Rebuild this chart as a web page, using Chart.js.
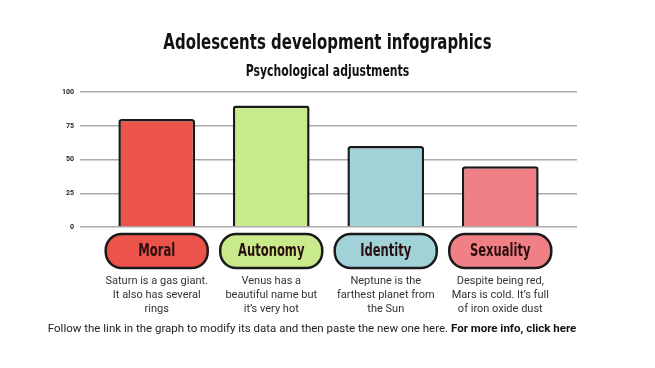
<!DOCTYPE html>
<html>
<head>
<meta charset="utf-8">
<script src="https://cdn.jsdelivr.net/npm/chart.js@4.4.1/dist/chart.umd.min.js"></script>
<style>
  html, body { margin: 0; padding: 0; background: #fff; }
  #wrap { width: 655px; height: 368px; position: relative; }
</style>
</head>
<body>
<div id="wrap"><canvas id="devChart" width="655" height="368"></canvas></div>
<script>
// chart data
const categories = ['Moral', 'Autonomy', 'Identity', 'Sexuality'];
const values = [80, 90, 60, 45];
const yTicks = [0, 25, 50, 75, 100];
const descriptions = [
  ['Saturn is a gas giant.', 'It also has several', 'rings'],
  ['Venus has a', 'beautiful name but', 'it\u2019s very hot'],
  ['Neptune is the', 'farthest planet from', 'the Sun'],
  ['Despite being red,', 'Mars is cold. It\u2019s full', 'of iron oxide dust']
];
const title = 'Adolescents development infographics';
const subtitle = 'Psychological adjustments';
const footer = 'Follow the link in the graph to modify its data and then paste the new one here.';
const footerBold = 'For more info, click here';

const colors = ['#ec534b', '#c8ea8b', '#a1d2d8', '#f17f86'];
const ink = '#1a1a1a';

function roundRect(ctx, x, y, w, h, r) {
  ctx.beginPath();
  ctx.moveTo(x + r, y);
  ctx.arcTo(x + w, y, x + w, y + h, r);
  ctx.arcTo(x + w, y + h, x, y + h, r);
  ctx.arcTo(x, y + h, x, y, r);
  ctx.arcTo(x, y, x + w, y, r);
  ctx.closePath();
}

// no condensed face installed, so squeeze the bold sans with maxWidth
function condensedText(ctx, text, x, y, size) {
  ctx.font = 'bold ' + size + 'px "DejaVu Sans", sans-serif';
  const w = ctx.measureText(text).width;
  ctx.fillText(text, x, y, w * 0.68);
}

// headings, label pills, descriptions and footer
const textPlugin = {
  id: 'infoText',
  afterDraw(chart) {
    const ctx = chart.ctx;
    const xs = chart.scales.x;
    const midX = chart.width / 2;
    ctx.save();
    ctx.textAlign = 'center';
    ctx.textBaseline = 'middle';
    ctx.fillStyle = '#111';
    condensedText(ctx, title, midX, 43, 22);
    condensedText(ctx, subtitle, midX, 72, 16);

    categories.forEach((cat, i) => {
      const cx = xs.getPixelForValue(i);
      roundRect(ctx, cx - 51, 234, 102, 34, 16);
      ctx.fillStyle = colors[i];
      ctx.fill();
      ctx.lineWidth = 2.5;
      ctx.strokeStyle = ink;
      ctx.stroke();
      ctx.fillStyle = '#2a0f10';
      condensedText(ctx, cat, cx, 251.5, 17);

      ctx.fillStyle = '#333';
      ctx.font = '11px Roboto, sans-serif';
      descriptions[i].forEach((line, j) => {
        ctx.fillText(line, cx, 281 + j * 14);
      });
    });

    // footer: regular part followed by a bold part
    ctx.font = '11.5px Roboto, sans-serif';
    const w1 = ctx.measureText(footer + ' ').width;
    ctx.font = 'bold 11.5px Roboto, sans-serif';
    const w2 = ctx.measureText(footerBold).width;
    const fx = 312 - (w1 + w2) / 2;
    ctx.textAlign = 'left';
    ctx.fillStyle = '#222';
    ctx.font = '11.5px Roboto, sans-serif';
    ctx.fillText(footer + ' ', fx, 329);
    ctx.font = 'bold 11.5px Roboto, sans-serif';
    ctx.fillStyle = '#111';
    ctx.fillText(footerBold, fx + w1, 329);
    ctx.restore();
  }
};

new Chart(document.getElementById('devChart'), {
  type: 'bar',
  data: {
    datasets: [{
      data: values.map((v, i) => ({ x: i, y: v })),
      backgroundColor: colors,
      borderColor: ink,
      borderWidth: 2.5,
      borderSkipped: 'bottom',
      borderRadius: 3,
      categoryPercentage: 1,
      barPercentage: 0.67
    }]
  },
  options: {
    responsive: false,
    animation: false,
    layout: { padding: { left: 0, right: 78, top: 92, bottom: 141 } },
    plugins: { legend: { display: false }, tooltip: { enabled: false } },
    scales: {
      x: {
        type: 'linear',
        offset: false,
        min: -0.67,
        max: 3.67,
        display: false,
        afterBuildTicks: s => { s.ticks = categories.map((c, i) => ({ value: i })); }
      },
      y: {
        min: 0,
        max: 100,
        afterFit: s => { s.width = 80; },
        afterBuildTicks: s => { s.ticks = yTicks.map(v => ({ value: v })); },
        border: { display: false },
        grid: { color: '#aaa', lineWidth: 1.5, drawTicks: false },
        ticks: {
          padding: 6,
          color: '#222',
          font: { family: 'Roboto, sans-serif', size: 7, weight: 'bold' }
        }
      }
    }
  },
  plugins: [textPlugin]
});
</script>
</body>
</html>
